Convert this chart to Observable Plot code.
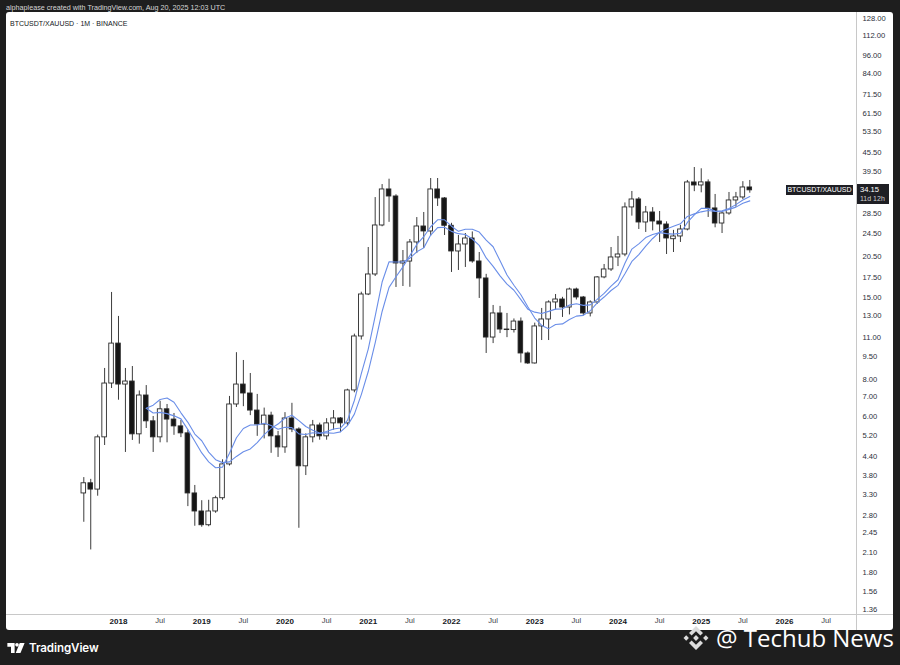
<!DOCTYPE html>
<html>
<head>
<meta charset="utf-8">
<script src="https://cdn.jsdelivr.net/npm/d3@7"></script>
<script src="https://cdn.jsdelivr.net/npm/@observablehq/plot@0.6"></script>
<style>
  html, body { margin: 0; padding: 0; }
  body { width: 900px; height: 665px; background: #1e1e1e; position: relative; overflow: hidden;
         font-family: "Liberation Sans", Arial, sans-serif; }
  #header { position: absolute; left: 6px; top: 3px; color: #d6d6d6; font-size: 7.2px; white-space: nowrap; }
  #panel { position: absolute; left: 6px; top: 12px; width: 887px; height: 618px; background: #fff; border-radius: 3px; overflow: hidden; }
  #symbol { position: absolute; left: 4px; top: 8px; color: #131722; font-size: 7px; white-space: nowrap; }
  #chart { position: absolute; left: 0; top: 0; }
  .sep { position: absolute; background: #c8c8c8; }
  #sepV { left: 850px; top: 0; width: 1px; height: 618px; }
  #sepH { left: 0; top: 602px; width: 887px; height: 1px; }
  .tag { position: absolute; background: #1f1f24; color: #fff; font-size: 7px; white-space: nowrap; }
  #symTag { left: 780px; width: 67px; height: 10px; line-height: 10px; text-align: center; }
  #priceTag { left: 851px; width: 32px; height: 20px; }
  #priceTag .p { position: absolute; left: 3px; top: 1px; font-size: 7.6px; line-height: 9px; }
  #priceTag .t { position: absolute; left: 3px; top: 10px; font-size: 7px; line-height: 9px; color: #d0d0d0; }
  #tvlogo { position: absolute; left: 7px; top: 641px; height: 13px; color: #fff; display: flex; align-items: center; white-space: nowrap; }
  #tvlogo span { font-family: Inter, "Noto Sans", sans-serif; font-weight: 600; font-size: 11.6px; margin-left: 4px; letter-spacing: -0.1px; }
  #watermark { position: absolute; left: 682px; top: 626px; height: 24px; display: flex; align-items: center; color: #fff; z-index: 5; white-space: nowrap; }
  #watermark span { font-family: "Open Sans", "Noto Sans", sans-serif; font-size: 24px; line-height: 24px; margin-left: 6px; }
</style>
</head>
<body>
<div id="header">alphaplease created with TradingView.com, Aug 20, 2025 12:03 UTC</div>
<div id="panel">
  <div id="chart"></div>
  <div id="symbol">BTCUSDT/XAUUSD · 1M · BINANCE</div>
  <div class="sep" id="sepV"></div>
  <div class="sep" id="sepH"></div>
  <div class="tag" id="symTag"></div>
  <div class="tag" id="priceTag"><div class="p"></div><div class="t"></div></div>
</div>
<div id="tvlogo">
  <svg width="18" height="10" viewBox="0 0 19 11">
    <path d="M0 0 H8 V11 H4 V4 H0 Z" fill="#fff"/>
    <circle cx="10.6" cy="2" r="2" fill="#fff"/>
    <path d="M13.6 0 H19 L14.4 11 H9.2 Z" fill="#fff"/>
  </svg>
  <span>TradingView</span>
</div>
<div id="watermark">
  <svg width="28" height="24" viewBox="0 1.5 28 24">
    <g fill="#dcdcdc">
      <path d="M14 1.5 L21 8.5 L18.4 11.1 L14 6.7 L9.6 11.1 L7 8.5 Z"/>
      <path d="M14 25.5 L21 18.5 L18.4 15.9 L14 20.3 L9.6 15.9 L7 18.5 Z"/>
      <path d="M1.5 13.5 L4.2 10.8 L6.9 13.5 L4.2 16.2 Z"/>
      <path d="M26.5 13.5 L23.8 10.8 L21.1 13.5 L23.8 16.2 Z"/>
      <path d="M14 10.6 L16.9 13.5 L14 16.4 L11.1 13.5 Z"/>
    </g>
  </svg>
  <span>@ Techub News</span>
</div>
<script>
// Monthly BTCUSDT / XAUUSD ratio candles (Binance), Aug 2017 – Aug 2025
const symbolName = "BTCUSDT/XAUUSD";
const countdown = "11d 12h";

const months = [
  "2017-08","2017-09","2017-10","2017-11","2017-12",
  "2018-01","2018-02","2018-03","2018-04","2018-05","2018-06","2018-07","2018-08","2018-09","2018-10","2018-11","2018-12",
  "2019-01","2019-02","2019-03","2019-04","2019-05","2019-06","2019-07","2019-08","2019-09","2019-10","2019-11","2019-12",
  "2020-01","2020-02","2020-03","2020-04","2020-05","2020-06","2020-07","2020-08","2020-09","2020-10","2020-11","2020-12",
  "2021-01","2021-02","2021-03","2021-04","2021-05","2021-06","2021-07","2021-08","2021-09","2021-10","2021-11","2021-12",
  "2022-01","2022-02","2022-03","2022-04","2022-05","2022-06","2022-07","2022-08","2022-09","2022-10","2022-11","2022-12",
  "2023-01","2023-02","2023-03","2023-04","2023-05","2023-06","2023-07","2023-08","2023-09","2023-10","2023-11","2023-12",
  "2024-01","2024-02","2024-03","2024-04","2024-05","2024-06","2024-07","2024-08","2024-09","2024-10","2024-11","2024-12",
  "2025-01","2025-02","2025-03","2025-04","2025-05","2025-06","2025-07","2025-08"
];

const open = [
  3.32, 3.59, 3.42, 5.11, 7.73,
  10.51, 7.67, 7.85, 5.23, 7.05, 5.78, 5.11, 6.34, 5.86, 5.56, 5.27, 3.32,
  2.89, 2.60, 2.89, 3.20, 4.15, 6.58, 7.67, 7.16, 6.28, 5.64, 6.04, 5.15,
  4.73, 5.91, 5.43, 4.09, 5.11, 5.60, 5.15, 5.69, 5.91, 5.69, 7.33, 11.10,
  15.33, 17.88, 26.06, 34.38, 32.57, 19.46, 19.75, 22.87, 25.86, 24.89, 34.38, 32.08,
  26.00, 21.34, 22.52, 23.58, 19.76, 17.34, 11.01, 13.25, 11.71, 11.66, 12.45, 9.74,
  9.02, 11.99, 12.65, 14.42, 14.75, 13.87, 15.93, 14.98, 13.25, 14.42, 17.48, 18.58,
  20.38, 20.85, 29.94, 31.83, 26.67, 28.80, 26.87, 26.26, 23.45, 23.95, 25.27, 36.28,
  35.45, 36.30, 29.71, 26.46, 28.58, 31.59, 32.33, 34.91
];
const high = [
  3.75, 3.70, 5.20, 8.68, 15.57,
  12.95, 8.68, 8.81, 7.30, 7.61, 6.00, 6.74, 6.58, 6.14, 5.82, 5.40, 3.53,
  3.14, 3.15, 3.25, 4.30, 7.00, 9.80, 9.23, 8.35, 7.11, 6.40, 6.20, 5.35,
  6.18, 6.64, 5.50, 5.25, 5.82, 5.70, 5.90, 6.28, 5.95, 7.40, 11.30, 15.60,
  22.00, 32.30, 35.70, 37.20, 33.00, 21.50, 23.40, 27.70, 28.80, 37.40, 37.40, 32.30,
  26.50, 24.13, 24.50, 24.80, 21.17, 17.90, 14.09, 13.99, 13.25, 12.70, 12.80, 9.85,
  12.30, 13.77, 14.60, 15.33, 15.00, 16.10, 16.10, 15.10, 14.60, 17.60, 19.31, 22.00,
  23.95, 31.00, 33.85, 32.30, 30.17, 29.90, 29.02, 26.80, 25.10, 26.10, 36.84, 40.70,
  40.30, 37.00, 33.08, 29.00, 33.59, 33.60, 36.50, 36.84
];
const low = [
  2.66, 2.15, 3.25, 4.80, 7.44,
  6.80, 4.55, 4.99, 4.85, 5.47, 4.55, 4.90, 4.90, 5.19, 5.10, 3.00, 2.58,
  2.56, 2.57, 2.85, 3.15, 4.10, 6.43, 6.47, 6.04, 5.15, 5.05, 4.52, 4.38,
  4.52, 5.30, 2.54, 3.81, 4.90, 5.00, 5.00, 5.40, 5.30, 5.60, 7.20, 10.80,
  15.20, 17.60, 25.80, 26.70, 16.18, 16.30, 16.20, 21.00, 21.84, 24.00, 30.17, 24.13,
  18.16, 18.44, 18.87, 19.50, 14.87, 9.74, 10.51, 11.35, 11.00, 11.40, 9.05, 8.95,
  8.98, 10.76, 10.76, 13.60, 12.85, 13.10, 14.70, 13.00, 12.90, 14.20, 17.30, 18.30,
  19.00, 20.50, 28.00, 25.27, 24.70, 25.00, 22.87, 20.85, 21.17, 22.87, 25.00, 33.80,
  33.50, 27.72, 25.60, 24.50, 28.20, 30.00, 31.80, 33.40
];
const close = [
  3.59, 3.42, 5.11, 7.73, 10.51,
  7.67, 7.85, 5.23, 7.05, 5.78, 5.11, 6.34, 5.86, 5.56, 5.27, 3.32, 2.89,
  2.60, 2.89, 3.20, 4.15, 6.58, 7.67, 7.16, 6.28, 5.64, 6.04, 5.15, 4.73,
  5.91, 5.43, 4.09, 5.11, 5.60, 5.15, 5.69, 5.91, 5.69, 7.33, 11.10, 15.33,
  17.88, 26.06, 34.38, 32.57, 19.46, 19.75, 22.87, 25.86, 24.89, 34.38, 32.08, 26.00,
  21.34, 22.52, 23.58, 19.76, 17.34, 11.01, 13.25, 11.71, 11.66, 12.45, 9.74, 9.02,
  11.99, 12.65, 14.42, 14.75, 13.87, 15.93, 14.98, 13.25, 14.42, 17.48, 18.58, 20.38,
  20.85, 29.94, 31.83, 26.67, 28.80, 26.87, 26.26, 23.58, 23.95, 25.27, 36.28, 35.45,
  36.30, 29.71, 26.46, 28.58, 31.59, 32.33, 34.91, 34.15
];

// Price-scale labels on the right
const yTicks = [1.36, 1.56, 1.80, 2.10, 2.45, 2.80, 3.30, 3.80, 4.40, 5.20, 6.00, 7.00, 8.00, 9.50,
  11.00, 13.00, 15.00, 17.50, 20.50, 24.50, 28.50, 39.50, 45.50, 53.50, 61.50, 71.50, 84.00, 96.00, 112.00, 128.00];

// Time-scale labels
const yearLabels = ["2018", "2019", "2020", "2021", "2022", "2023", "2024", "2025", "2026"];
const midLabel = "Jul";

// bar index: months counted from January 2018
const monthIndex = m => { const [y, mo] = m.split("-").map(Number); return (y - 2018) * 12 + (mo - 1); };

const candles = months.map((m, k) => ({
  i: monthIndex(m), open: open[k], high: high[k], low: low[k], close: close[k]
}));

const yearTicks = yearLabels.map(y => monthIndex(`${y}-01`));
const julTicks = yearLabels.map(y => monthIndex(`${y}-07`));
const yearByIndex = new Map(yearTicks.map((t, k) => [t, yearLabels[k]]));

// exponential moving average, seeded with the simple mean of the first k closes
function ema10(values) {
  const k = 10, a = 2 / (k + 1);
  const out = Array.from(values, () => NaN);
  let e = d3.mean(Array.from(values).slice(0, k));
  out[k - 1] = e;
  for (let j = k; j < values.length; ++j) { e = a * values[j] + (1 - a) * e; out[j] = e; }
  return out;
}

const bodyHalf = 0.33;
const maColor = "#6a8ee8";

const chart = Plot.plot({
  width: 887,
  height: 618,
  marginTop: 0,
  marginRight: 37,
  marginBottom: 16,
  marginLeft: 0,
  style: { background: "transparent", fontFamily: "'Liberation Sans', Arial, sans-serif", overflow: "visible" },
  x: { type: "linear", domain: [-16.144, 106.38] },
  y: { type: "log", domain: [1.3088, 134.04] },
  marks: [
    Plot.ruleX(candles, { x: "i", y1: "low", y2: "high", stroke: "#3c3c3c", strokeWidth: 1 }),
    Plot.rect(candles, {
      x1: d => d.i - bodyHalf, x2: d => d.i + bodyHalf,
      y1: "open", y2: "close",
      fill: d => d.close >= d.open ? "#ffffff" : "#161616",
      stroke: "#2a2a2a", strokeWidth: 0.9
    }),
    Plot.lineY(candles, Plot.windowY({ k: 10, anchor: "end", strict: true, reduce: "mean" },
      { x: "i", y: "close", stroke: maColor, strokeWidth: 1.1 })),
    Plot.lineY(candles, Plot.mapY(ema10, { x: "i", y: "close", stroke: maColor, strokeWidth: 1.1 })),
    Plot.axisX(yearTicks, { anchor: "bottom", tickSize: 0, tickPadding: 3.5, tickFormat: d => yearByIndex.get(d),
      fontSize: 8, fontWeight: "bold", color: "#131722", label: null }),
    Plot.axisX(julTicks, { anchor: "bottom", tickSize: 0, tickPadding: 3.5, tickFormat: () => midLabel,
      fontSize: 7.6, color: "#3a3e48", label: null }),
    Plot.axisY(yTicks, { anchor: "right", tickSize: 0, tickPadding: 6, tickFormat: d3.format(".2f"),
      fontSize: 7.6, color: "#2a2e39", label: null })
  ]
});
document.getElementById("chart").appendChild(chart);

// last-price tags on the price scale
const last = candles[candles.length - 1];
const yLast = chart.scale("y").apply(last.close);
const symTag = document.getElementById("symTag");
symTag.textContent = symbolName;
symTag.style.top = (yLast - 5) + "px";
const priceTag = document.getElementById("priceTag");
priceTag.style.top = (yLast - 5.5) + "px";
priceTag.querySelector(".p").textContent = d3.format(".2f")(last.close);
priceTag.querySelector(".t").textContent = countdown;
</script>
</body>
</html>
